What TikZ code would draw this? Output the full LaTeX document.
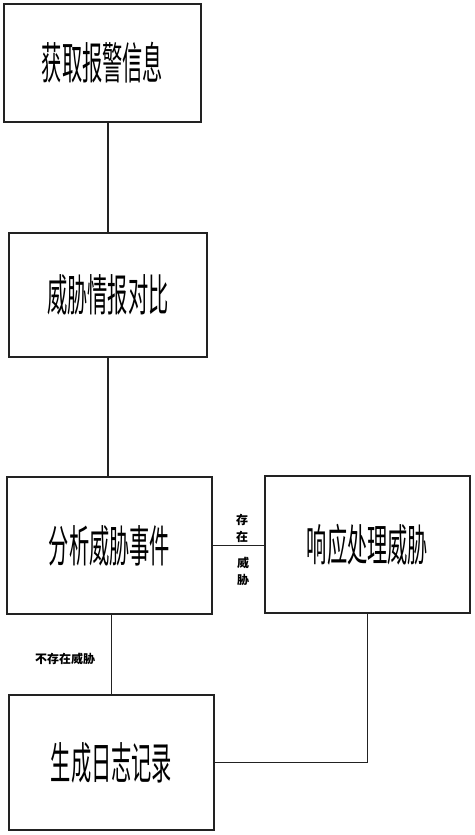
\documentclass[tikz,border=0pt]{standalone}
\usepackage{fontspec}
\newfontfamily\cjk{Noto Sans CJK SC}
\usepackage{xcolor}
\definecolor{linec}{HTML}{222222}

\tikzset{
  stepbox/.style={draw=linec, line width=1.3pt, rectangle, inner sep=0pt,
    font=\cjk\fontsize{44}{48}\selectfont, xscale=0.46},
  wire/.style={draw=linec, line width=1.2pt},
  tag/.style={font=\cjk\bfseries\fontsize{12}{16}\selectfont, align=center, inner sep=0pt}
}

\begin{document}
\begin{tikzpicture}[x=1pt,y=-1pt]
  \useasboundingbox (0,0) rectangle (474,835);
  \fill[white] (0,0) rectangle (474,835);

  % ============================================================
  %                       BOXES
  % ============================================================
  \node[stepbox, minimum width=197pt/0.46, minimum height=118pt] (fetch)   at (102.5,63)  {获取报警信息};
  \node[stepbox, minimum width=198pt/0.46, minimum height=124pt] (compare) at (108,295)   {威胁情报对比};
  \node[stepbox, minimum width=205pt/0.46, minimum height=137pt] (analyse) at (109.5,545.5) {分析威胁事件};
  \node[stepbox, minimum width=205pt/0.46, minimum height=137pt] (respond) at (367.5,544.5) {响应处理威胁};
  \node[stepbox, minimum width=205pt/0.46, minimum height=135pt] (logrec)  at (111.5,762.5) {生成日志记录};

  % ============================================================
  %                       LINKS
  % ============================================================
  \draw[wire] (compare.north) -- (compare.north |- fetch.south);
  \draw[wire] (compare.south) -- (compare.south |- analyse.north);
  \draw[wire] (analyse.east) -- (analyse.east -| respond.west);
  \draw[wire] (logrec.north) -- (logrec.north |- analyse.south);
  \draw[wire] (respond.south) |- (logrec.east);

  % labels
  \node[tag] (yes1) at (242,528) {存\\[1pt]在};
  \node[tag] (yes2) at (243,571) {威\\[1pt]胁};
  \node[tag] (nothreat) at (65,659) {不存在威胁};

\end{tikzpicture}
\end{document}
